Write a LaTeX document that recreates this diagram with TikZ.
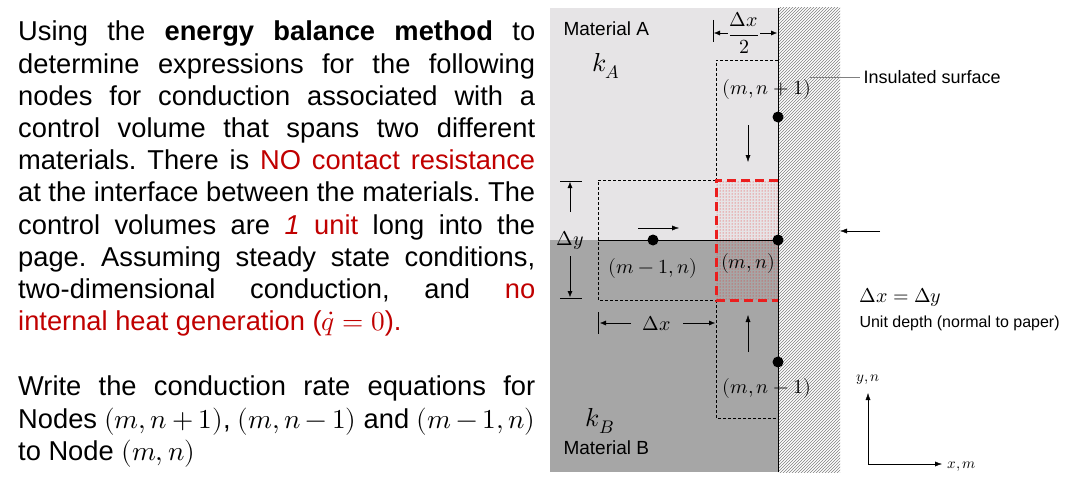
\documentclass[tikz,border=0pt]{standalone}
\usepackage{fontspec}
\usepackage{unicode-math}
\setmainfont{Liberation Sans}
\setmathfont{Latin Modern Math}
\usetikzlibrary{patterns,arrows.meta}
\hyphenpenalty=10000
\exhyphenpenalty=10000
\frenchspacing
\definecolor{txtred}{RGB}{192,0,0}
\definecolor{boxred}{RGB}{235,30,30}
\definecolor{lgray}{RGB}{230,228,230}
\definecolor{dgray}{RGB}{166,166,166}
\tikzset{
  dim/.style={-{Latex[length=6pt,width=5pt]},thin},
  flow/.style={-{Latex[length=7pt,width=5pt]},thin},
  cv/.style={dashed,thin,dash pattern=on 3pt off 2pt},
  dotn/.style={circle,fill=black,inner sep=0pt,minimum size=11pt},
  lab/.style={font=\fontsize{19}{21}\selectfont},
  mlab/.style={font=\fontsize{20}{22}\selectfont},
  para/.style={anchor=north west,inner sep=0pt,text width=517pt,align=justify,font=\fontsize{27.3}{32.2}\selectfont},
}
\begin{document}
\begin{tikzpicture}[x=1pt,y=-1pt]
\useasboundingbox (0,0) rectangle (1071,503);
% text
\node[para] (txt) at (18,21)
{\hbadness=10000\hfuzz=20pt Using the \textbf{energy balance method} to\linebreak determine expressions for the following\linebreak nodes for conduction associated with a\linebreak control volume that spans two different\linebreak materials. There is \textcolor{txtred}{NO contact resistance}\linebreak at the interface between the materials. The\linebreak control volumes are \textcolor{txtred}{\textit{1} unit} long into the\linebreak page. Assuming steady state conditions,\linebreak two-dimensional conduction, and \textcolor{txtred}{no}\linebreak \textcolor{txtred}{internal heat generation ($\dot{q}=0$).}};
\node[para] (txt2) at (18,376)
{\hbadness=10000\hfuzz=20pt Write the conduction rate equations for\linebreak Nodes $(m,n+1)$, $(m,n-1)$ and $(m-1,n)$\linebreak to Node $(m,n)$};
% materials
\fill[lgray] (550,8) rectangle (778,240);
\fill[dgray] (550,240) rectangle (778,472);
\fill[white] (778,8) rectangle (840,472);
\fill[pattern=north east lines,pattern color=gray] (778,8) rectangle (840,472);
% red CV
\fill[pattern=dots,pattern color=boxred] (716,180) rectangle (778,300);
% dashed CVs
\draw[cv] (778,60) -- (716,60) -- (716,180);
\draw[cv] (716,180) -- (598,180) -- (598,300) -- (716,300);
\draw[cv] (716,300) -- (716,418) -- (778,418);
\draw[boxred,line width=3pt,dash pattern=on 9pt off 5pt] (778,180) -- (716,180) -- (716,300) -- (778,300);
\draw[thick] (598,240) -- (778,240);
\draw[thick] (778,8) -- (778,472);
% nodes
\node[dotn] (n1) at (778,117) {};
\node[dotn] (n0) at (778,240) {};
\node[dotn] (nl) at (653,240) {};
\node[dotn] (nb) at (778,362) {};
% flows
\draw[flow] (748,125) -- (748,162);
\draw[flow] (748,352) -- (748,315);
\draw[flow] (638,228) -- (679,228);
% labels
\node[lab,anchor=west] (mA) at (560,29) {Material A};
\node[font=\fontsize{26}{28}\selectfont] (kA) at (606,66) {$k_A$};
\node[mlab] (l1) at (767,90) {$(m,n+1)$};
\node[mlab] (l2) at (653,268) {$(m-1,n)$};
\node[mlab] (l3) at (748,263) {$(m,n)$};
\node[mlab] (l4) at (767,388) {$(m,n-1)$};
\node[font=\fontsize{26}{28}\selectfont] (kB) at (600,421) {$k_B$};
\node[lab,anchor=west] (mB) at (560,448) {Material B};
% dimension dx/2
\draw (713,20) -- (713,42);
\node[mlab,inner sep=1pt] (dx2) at (744,33) {$\displaystyle\frac{\Delta x}{2}$};
\draw[dim] (dx2.west) -- (714,33);
\draw[dim] (dx2.east) -- (777,33);
% dimension dy
\draw (560,181) -- (582,181);
\draw (560,298) -- (582,298);
\node[mlab] (dy) at (570,240) {$\Delta y$};
\draw[dim] (570,212) -- (570,182);
\draw[dim] (570,256) -- (570,297);
% dimension dx
\draw (598,312) -- (598,334);
\node[mlab] (dx) at (657,323) {$\Delta x$};
\draw[dim] (631,323) -- (600,323);
\draw[dim] (683,323) -- (715,323);
% insulated
\node[anchor=west,font=\fontsize{18}{20}\selectfont] (ins) at (860,77) {Insulated surface};
\draw[gray] (810,77) -- (ins.west);
\coordinate (ar) at (880,231);
\draw[flow] (ar) -- (840,231);
\node[mlab,anchor=west] (eq) at (856,297) {$\Delta x=\Delta y$};
\node[anchor=west,font=\fontsize{16}{18}\selectfont] (ud) at (856,323) {Unit depth (normal to paper)};
% axes
\coordinate (o) at (868,464);
\draw[flow] (o) -- (868,393);
\draw[flow] (o) -- (942,464);
\node[font=\fontsize{15}{17}\selectfont] (yn) at (868,380) {$y,n$};
\node[font=\fontsize{15}{17}\selectfont,anchor=west] (xm) at (944,467) {$x,m$};
\end{tikzpicture}
\end{document}
